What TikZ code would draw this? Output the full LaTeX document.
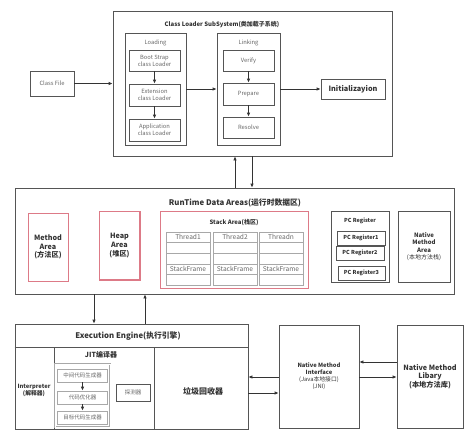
\documentclass[tikz,border=0pt]{standalone}
\usepackage{fontspec}
\setmainfont{Noto Sans CJK SC}
\usetikzlibrary{arrows.meta}
\definecolor{boxc}{HTML}{555555}
\definecolor{redc}{HTML}{DD7A87}
\definecolor{cellc}{HTML}{A8A8A8}
\definecolor{txtc}{HTML}{333333}
\definecolor{ltxt}{HTML}{666666}
\newcommand{\fs}[1]{\fontsize{#1pt}{\dimexpr #1pt*6/5\relax}\selectfont}
\tikzset{
  bx/.style={draw=boxc, line width=0.75pt, inner sep=0pt, align=center, text=txtc},
  rbx/.style={draw=redc, line width=0.9pt, inner sep=0pt, align=center, text=txtc},
  cellbox/.style={draw=cellc, line width=0.6pt, inner sep=0pt, minimum width=44pt, minimum height=10.6pt, text=ltxt, font=\fs{6.6}},
  lbl/.style={inner sep=0pt, align=center, text=txtc},
  arr/.style={draw=txtc, line width=0.75pt, -{Latex[length=4pt,width=3.5pt]}},
  ln/.style={draw=boxc, line width=0.75pt}
}
\begin{document}
\begin{tikzpicture}[x=1pt,y=-1pt]
\useasboundingbox (0,0) rectangle (474,440);
% ---------- Class loader subsystem
\node[bx, minimum width=44pt, minimum height=25pt, font=\fs{5.8}, text=ltxt] (cf) at (52,83.5) {Class File};
\node[bx, minimum width=279pt, minimum height=145pt] (cls) at (252.5,83.5) {};
\node[lbl, font=\bfseries\fs{6}] (clst) at (222,25) {Class Loader SubSystem(类加载子系统)};
\node[bx, minimum width=61pt, minimum height=112pt] (load) at (155.5,89) {};
\node[lbl, font=\fs{5.8}, text=ltxt] (loadt) at (155.5,43) {Loading};
\node[bx, minimum width=51pt, minimum height=21pt, font=\fs{5.8}, text=ltxt] (boot) at (154.5,60.5) {Boot Strap\\class Loader};
\node[bx, minimum width=51pt, minimum height=22pt, font=\fs{5.8}, text=ltxt] (ext) at (154.5,95) {Extension\\class Loader};
\node[bx, minimum width=51pt, minimum height=22pt, font=\fs{5.8}, text=ltxt] (app) at (154.5,130) {Application\\class Loader};
\node[bx, minimum width=63pt, minimum height=112pt] (link) at (248.5,89) {};
\node[lbl, font=\fs{5.8}, text=ltxt] (linkt) at (248.5,43) {Linking};
\node[bx, minimum width=51pt, minimum height=21pt, font=\fs{5.8}, text=ltxt] (ver) at (248.5,60.5) {Verify};
\node[bx, minimum width=51pt, minimum height=22pt, font=\fs{5.8}, text=ltxt] (prep) at (248.5,94) {Prepare};
\node[bx, minimum width=51pt, minimum height=21pt, font=\fs{5.8}, text=ltxt] (res) at (248.5,127.5) {Resolve};
\node[bx, minimum width=64pt, minimum height=20pt, font=\bfseries\fs{7.3}] (init) at (353,89) {Initializayion};
\draw[arr] (cf.east) -- (cf.east -| cls.west);
\draw[arr] (boot) -- (ext);
\draw[arr] (ext) -- (app);
\draw[arr] (ver) -- (prep);
\draw[arr] (prep) -- (res);
\draw[arr] (load.east) -- (link.west);
\draw[arr] (link.east) -- (init.west);
% ---------- Runtime data areas
\node[bx, minimum width=439pt, minimum height=106pt] (rt) at (234.5,241) {};
\node[lbl, font=\bfseries\fs{7.8}] (rtt) at (235,203) {RunTime Data Areas(运行时数据区)};
\coordinate (ua) at (235,0);
\coordinate (da) at (252,0);
\draw[arr] (rt.north -| ua) -- (cls.south -| ua);
\draw[arr] (cls.south -| da) -- (rt.north -| da);
\node[rbx, minimum width=40pt, minimum height=68pt, font=\bfseries\fs{7.2}] (meth) at (48,247) {Method\\Area\\(方法区)};
\node[rbx, minimum width=40pt, minimum height=68pt, font=\bfseries\fs{7.2}] (heapa) at (119.5,245.5) {Heap\\Area\\(堆区)};
\draw[draw=redc, line width=0.9pt] (heapa.north west) rectangle (heapa.south east);
\node[rbx, minimum width=148pt, minimum height=77pt] (stack) at (234,249.5) {};
\node[lbl, font=\bfseries\fs{6}] (stackt) at (234,223) {Stack Area(栈区)};
\foreach \c/\x/\t in {1/188/Thread1, 2/235/Thread2, 3/281/Threadn}{
  \node[cellbox] (c\c r1) at (\x,237.3) {\t};
  \node[cellbox] (c\c r2) at (\x,247.9) {};
  \node[cellbox] (c\c r3) at (\x,258.5) {};
  \node[cellbox] (c\c r4) at (\x,269.1) {StackFrame};
  \node[cellbox] (c\c r5) at (\x,279.7) {};
}
\node[bx, minimum width=58pt, minimum height=71pt] (pc) at (360,246.5) {};
\node[lbl, font=\bfseries\fs{5.5}] (pct) at (360,221) {PC Register};
\node[bx, minimum width=48pt, minimum height=14pt, font=\bfseries\fs{5.5}] (pc1) at (361,238) {PC Register1};
\node[bx, minimum width=48pt, minimum height=14pt, font=\bfseries\fs{5.5}] (pc2) at (360,253) {PC Register2};
\node[bx, minimum width=47pt, minimum height=14pt, font=\bfseries\fs{5.5}] (pc3) at (361.5,273) {PC Register3};
\node[bx, minimum width=52pt, minimum height=71pt, font=\fs{6}] (nma) at (424,246.5) {\textbf{Native}\\\textbf{Method}\\\textbf{Area}\\(本地方法栈)};
% ---------- Execution engine
\node[bx, minimum width=233pt, minimum height=105pt] (ee) at (131.5,376.5) {};
\coordinate (ra) at (94,0);
\coordinate (la) at (145,0);
\draw[arr] (rt.south -| ra) -- (ee.north -| ra);
\draw[arr] (ee.north -| la) -- (rt.south -| la);
\coordinate (hl) at (0,347);
\draw[ln] (ee.west |- hl) -- (ee.east |- hl);
\node[lbl, font=\bfseries\fs{7.8}] (eet) at (128,336) {Execution Engine(执行引擎)};
\coordinate (d1) at (54,0);
\coordinate (d2) at (154,0);
\draw[ln] (d1 |- hl) -- (d1 |- ee.south);
\draw[ln] (d2 |- hl) -- (d2 |- ee.south);
\node[lbl, font=\bfseries\fs{5.8}] (interp) at (34,390) {Interpreter\\(解释器)};
\node[lbl, font=\bfseries\fs{7}] (jitt) at (101,355) {JIT编译器};
\node[draw=cellc, double=white, double distance=0.8pt, line width=0.6pt, minimum width=55pt, minimum height=63pt, inner sep=0pt] (jit) at (82.5,395.5) {};
\node[bx, draw=cellc, minimum width=50pt, minimum height=13pt, font=\fs{5.5}, text=ltxt] (j1) at (82.5,375.5) {中间代码生成器};
\node[bx, draw=cellc, minimum width=50pt, minimum height=13pt, font=\fs{5.5}, text=ltxt] (j2) at (82.5,397.5) {代码优化器};
\node[bx, draw=cellc, minimum width=50pt, minimum height=13pt, font=\fs{5.5}, text=ltxt] (j3) at (82.5,417.5) {目标代码生成器};
\draw[arr] (j1) -- (j2);
\draw[arr] (j2) -- (j3);
\node[bx, minimum width=34pt, minimum height=17pt, font=\fs{5.5}, text=ltxt] (probe) at (133,392.5) {探测器};
\node[lbl, font=\bfseries\fs{8}] (gc) at (203,391) {垃圾回收器};
% ---------- JNI and native library
\node[bx, minimum width=80pt, minimum height=103pt, font=\fs{5.8}] (jni) at (319,376.5) {\textbf{Native Method}\\\textbf{Interface}\\(Java本地接口)\\(JNI)};
\node[bx, minimum width=66pt, minimum height=103pt, font=\bfseries\fs{7.2}] (lib) at (430,376.5) {Native Method\\Libary\\(本地方法库)};
\coordinate (y1) at (0,362);
\coordinate (y2) at (0,377);
\coordinate (y3) at (0,393);
\draw[arr] (lib.west |- y1) -- (jni.east |- y1);
\draw[arr] (jni.east |- y2) -- (lib.west |- y2);
\draw[arr] (jni.west |- y2) -- (ee.east |- y2);
\draw[arr] (ee.east |- y3) -- (jni.west |- y3);
\end{tikzpicture}
\end{document}
